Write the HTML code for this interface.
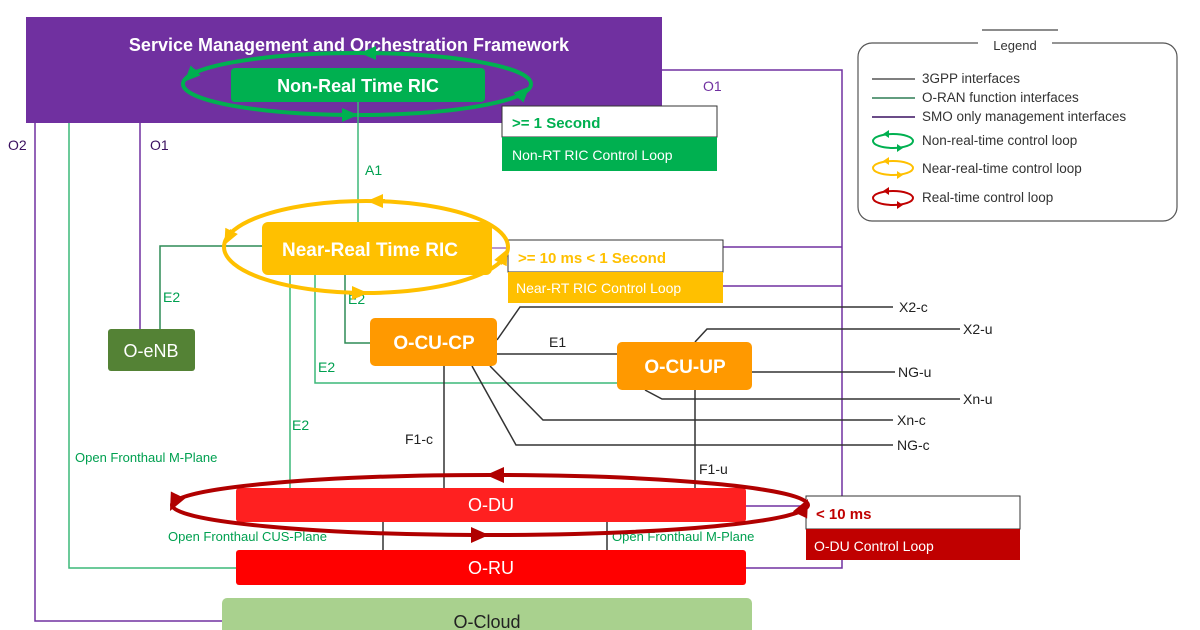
<!DOCTYPE html>
<html><head><meta charset="utf-8"><style>body{margin:0;background:#fff}svg{display:block;font-family:"Liberation Sans",sans-serif}</style></head><body>
<svg width="1200" height="630" viewBox="0 0 1200 630" xmlns="http://www.w3.org/2000/svg">
<defs>
<marker id="ag" markerUnits="userSpaceOnUse" markerWidth="16" markerHeight="16" refX="8" refY="8" orient="auto"><path d="M0,1L16,8L0,15z" fill="#00b050"/></marker>
<marker id="ay" markerUnits="userSpaceOnUse" markerWidth="16" markerHeight="16" refX="8" refY="8" orient="auto"><path d="M0,1L16,8L0,15z" fill="#ffc000"/></marker>
<marker id="ar" markerUnits="userSpaceOnUse" markerWidth="18" markerHeight="18" refX="9" refY="9" orient="auto"><path d="M0,1L18,9L0,17z" fill="#b00000"/></marker>
</defs>
<rect x="26" y="17" width="636" height="106" fill="#7030a0"/>
<text x="349" y="51" fill="#fff" font-size="18" font-weight="bold" text-anchor="middle">Service Management and Orchestration Framework</text>
<rect x="231" y="68" width="254" height="34" rx="4" fill="#00b050"/>
<text x="358" y="92" fill="#fff" font-size="18" font-weight="bold" text-anchor="middle">Non-Real Time RIC</text>
<ellipse cx="357" cy="84" rx="174" ry="31" fill="none" stroke="#00b050" stroke-width="4"/>
<path d="M378,53 l-10,0" stroke="#00b050" stroke-width="4" marker-end="url(#ag)"/>
<path d="M340,115 l10,0" stroke="#00b050" stroke-width="4" marker-end="url(#ag)"/>
<path d="M196,70 l-6,6" stroke="#00b050" stroke-width="4" marker-end="url(#ag)"/>
<path d="M518,98 l6,-6" stroke="#00b050" stroke-width="4" marker-end="url(#ag)"/>
<polyline points="662,70 842,70 842,568 746,568" fill="none" stroke="#7030a0" stroke-width="1.5"/>
<text x="703" y="91" fill="#7030a0" font-size="14">O1</text>
<line x1="723" y1="247" x2="842" y2="247" stroke="#7030a0" stroke-width="1.5"/>
<line x1="723" y1="286" x2="842" y2="286" stroke="#7030a0" stroke-width="1.5"/>
<line x1="492" y1="248" x2="510" y2="248" stroke="#7030a0" stroke-width="1"/>
<line x1="746" y1="506" x2="806" y2="506" stroke="#7030a0" stroke-width="1.5"/>
<rect x="502" y="106" width="215" height="31" fill="#fff" stroke="#333" stroke-width="1"/>
<text x="512" y="128" fill="#00b050" font-size="15" font-weight="bold">&gt;= 1 Second</text>
<rect x="502" y="137" width="215" height="34" fill="#00b050"/>
<text x="512" y="160" fill="#fff" font-size="14">Non-RT RIC Control Loop</text>
<rect x="508" y="240" width="215" height="32" fill="#fff" stroke="#333" stroke-width="1"/>
<text x="518" y="263" fill="#ffc000" font-size="15" font-weight="bold">&gt;= 10 ms &lt; 1 Second</text>
<rect x="508" y="272" width="215" height="31" fill="#ffc000"/>
<text x="516" y="293" fill="#fff" font-size="14">Near-RT RIC Control Loop</text>
<rect x="806" y="496" width="214" height="33" fill="#fff" stroke="#333" stroke-width="1"/>
<text x="816" y="519" fill="#c00000" font-size="15" font-weight="bold">&lt; 10 ms</text>
<rect x="806" y="529" width="214" height="31" fill="#c00000"/>
<text x="814" y="551" fill="#fff" font-size="14">O-DU Control Loop</text>
<polyline points="35,123 35,621 222,621" fill="none" stroke="#7030a0" stroke-width="1.5"/>
<text x="8" y="150" fill="#3a1060" font-size="14">O2</text>
<polyline points="69,123 69,568 236,568" fill="none" stroke="#3cb878" stroke-width="1.5"/>
<text x="75" y="462" fill="#00a050" font-size="13">Open Fronthaul M-Plane</text>
<line x1="140" y1="123" x2="140" y2="330" stroke="#7030a0" stroke-width="1.5"/>
<text x="150" y="150" fill="#3a1060" font-size="14">O1</text>
<polyline points="160,330 160,246 262,246" fill="none" stroke="#2e8b57" stroke-width="1.5"/>
<text x="163" y="302" fill="#00a050" font-size="14">E2</text>
<line x1="358" y1="102" x2="358" y2="222" stroke="#3cb878" stroke-width="1.5"/>
<text x="365" y="175" fill="#00a050" font-size="14">A1</text>
<line x1="290" y1="275" x2="290" y2="488" stroke="#3cb878" stroke-width="1.5"/>
<text x="292" y="430" fill="#00a050" font-size="14">E2</text>
<polyline points="315,275 315,383 617,383" fill="none" stroke="#3cb878" stroke-width="1.5"/>
<text x="318" y="372" fill="#00a050" font-size="14">E2</text>
<polyline points="345,275 345,343 370,343" fill="none" stroke="#2e8b57" stroke-width="1.5"/>
<text x="348" y="304" fill="#00a050" font-size="14">E2</text>
<rect x="262" y="222" width="230" height="53" rx="6" fill="#ffc000"/>
<text x="370" y="256" fill="#fff" font-size="19" font-weight="bold" text-anchor="middle">Near-Real Time RIC</text>
<ellipse cx="366" cy="247" rx="142" ry="46" fill="none" stroke="#ffc000" stroke-width="4"/>
<path d="M385,201 l-10,0" stroke="#ffc000" stroke-width="4" marker-end="url(#ay)"/>
<path d="M350,293 l10,0" stroke="#ffc000" stroke-width="4" marker-end="url(#ay)"/>
<path d="M232,230 l-4,8" stroke="#ffc000" stroke-width="4" marker-end="url(#ay)"/>
<path d="M500,264 l4,-8" stroke="#ffc000" stroke-width="4" marker-end="url(#ay)"/>
<g stroke="#333" stroke-width="1.5" fill="none">
<line x1="497" y1="354" x2="617" y2="354"/>
<polyline points="497,340 520,307 893,307"/>
<polyline points="695,342 707,329 960,329"/>
<line x1="752" y1="372" x2="895" y2="372"/>
<polyline points="645,390 662,399 960,399"/>
<polyline points="490,366 543,420 893,420"/>
<polyline points="472,366 516,445 893,445"/>
<line x1="444" y1="366" x2="444" y2="488"/>
<line x1="695" y1="390" x2="695" y2="488"/>
<line x1="383" y1="522" x2="383" y2="550"/>
<line x1="607" y1="522" x2="607" y2="550"/>
</g>
<g font-size="14" fill="#222">
<text x="549" y="347">E1</text>
<text x="899" y="312">X2-c</text>
<text x="963" y="334">X2-u</text>
<text x="898" y="377">NG-u</text>
<text x="963" y="404">Xn-u</text>
<text x="897" y="425">Xn-c</text>
<text x="897" y="450">NG-c</text>
<text x="405" y="444">F1-c</text>
<text x="699" y="474">F1-u</text>
</g>
<rect x="108" y="329" width="87" height="42" rx="3" fill="#548235"/>
<text x="151" y="357" fill="#fff" font-size="18" text-anchor="middle">O-eNB</text>
<rect x="370" y="318" width="127" height="48" rx="5" fill="#ff9900"/>
<text x="434" y="349" fill="#fff" font-size="19" font-weight="bold" text-anchor="middle">O-CU-CP</text>
<rect x="617" y="342" width="135" height="48" rx="5" fill="#ff9900"/>
<text x="685" y="373" fill="#fff" font-size="19" font-weight="bold" text-anchor="middle">O-CU-UP</text>
<rect x="236" y="488" width="510" height="34" rx="3" fill="#ff2020"/>
<text x="491" y="511" fill="#fff" font-size="18" text-anchor="middle">O-DU</text>
<rect x="236" y="550" width="510" height="35" rx="3" fill="#ff0000"/>
<text x="491" y="574" fill="#fff" font-size="18" text-anchor="middle">O-RU</text>
<rect x="222" y="598" width="530" height="45" rx="5" fill="#a9d18e"/>
<text x="487" y="628" fill="#222" font-size="18" text-anchor="middle">O-Cloud</text>
<text x="168" y="541" fill="#00a050" font-size="13">Open Fronthaul CUS-Plane</text>
<text x="612" y="541" fill="#00a050" font-size="13">Open Fronthaul M-Plane</text>
<ellipse cx="490" cy="505" rx="318" ry="30" fill="none" stroke="#b00000" stroke-width="4"/>
<path d="M505,475 l-10,0" stroke="#b00000" stroke-width="4" marker-end="url(#ar)"/>
<path d="M470,535 l10,0" stroke="#b00000" stroke-width="4" marker-end="url(#ar)"/>
<path d="M178,495 l-4,8" stroke="#b00000" stroke-width="4" marker-end="url(#ar)"/>
<path d="M800,515 l4,-8" stroke="#b00000" stroke-width="4" marker-end="url(#ar)"/>
<rect x="858" y="43" width="319" height="178" rx="14" fill="#fff" stroke="#555" stroke-width="1.2"/>
<rect x="978" y="38" width="74" height="12" fill="#fff"/>
<line x1="982" y1="30" x2="1058" y2="30" stroke="#666" stroke-width="1.5"/>
<text x="1015" y="50" fill="#333" font-size="13" text-anchor="middle">Legend</text>
<line x1="872" y1="79" x2="915" y2="79" stroke="#555" stroke-width="1.5"/>
<line x1="872" y1="98" x2="915" y2="98" stroke="#2e7d55" stroke-width="1.5"/>
<line x1="872" y1="117" x2="915" y2="117" stroke="#3a1060" stroke-width="1.5"/>
<g font-size="13.5" fill="#333">
<text x="922" y="83">3GPP interfaces</text>
<text x="922" y="102">O-RAN function interfaces</text>
<text x="922" y="121">SMO only management interfaces</text>
<text x="922" y="145">Non-real-time control loop</text>
<text x="922" y="173">Near-real-time control loop</text>
<text x="922" y="202">Real-time control loop</text>
</g>
<ellipse cx="893" cy="141" rx="20" ry="7" fill="none" stroke="#00b050" stroke-width="2"/>
<ellipse cx="893" cy="168" rx="20" ry="7" fill="none" stroke="#ffc000" stroke-width="2"/>
<ellipse cx="893" cy="198" rx="20" ry="7" fill="none" stroke="#c00000" stroke-width="2"/>
<g>
<path d="M883,134 l6,-4 l0,8z" fill="#00b050"/><path d="M903,148 l-6,4 l0,-8z" fill="#00b050"/>
<path d="M883,161 l6,-4 l0,8z" fill="#ffc000"/><path d="M903,175 l-6,4 l0,-8z" fill="#ffc000"/>
<path d="M883,191 l6,-4 l0,8z" fill="#c00000"/><path d="M903,205 l-6,4 l0,-8z" fill="#c00000"/>
</g>
</svg>
</body></html>
